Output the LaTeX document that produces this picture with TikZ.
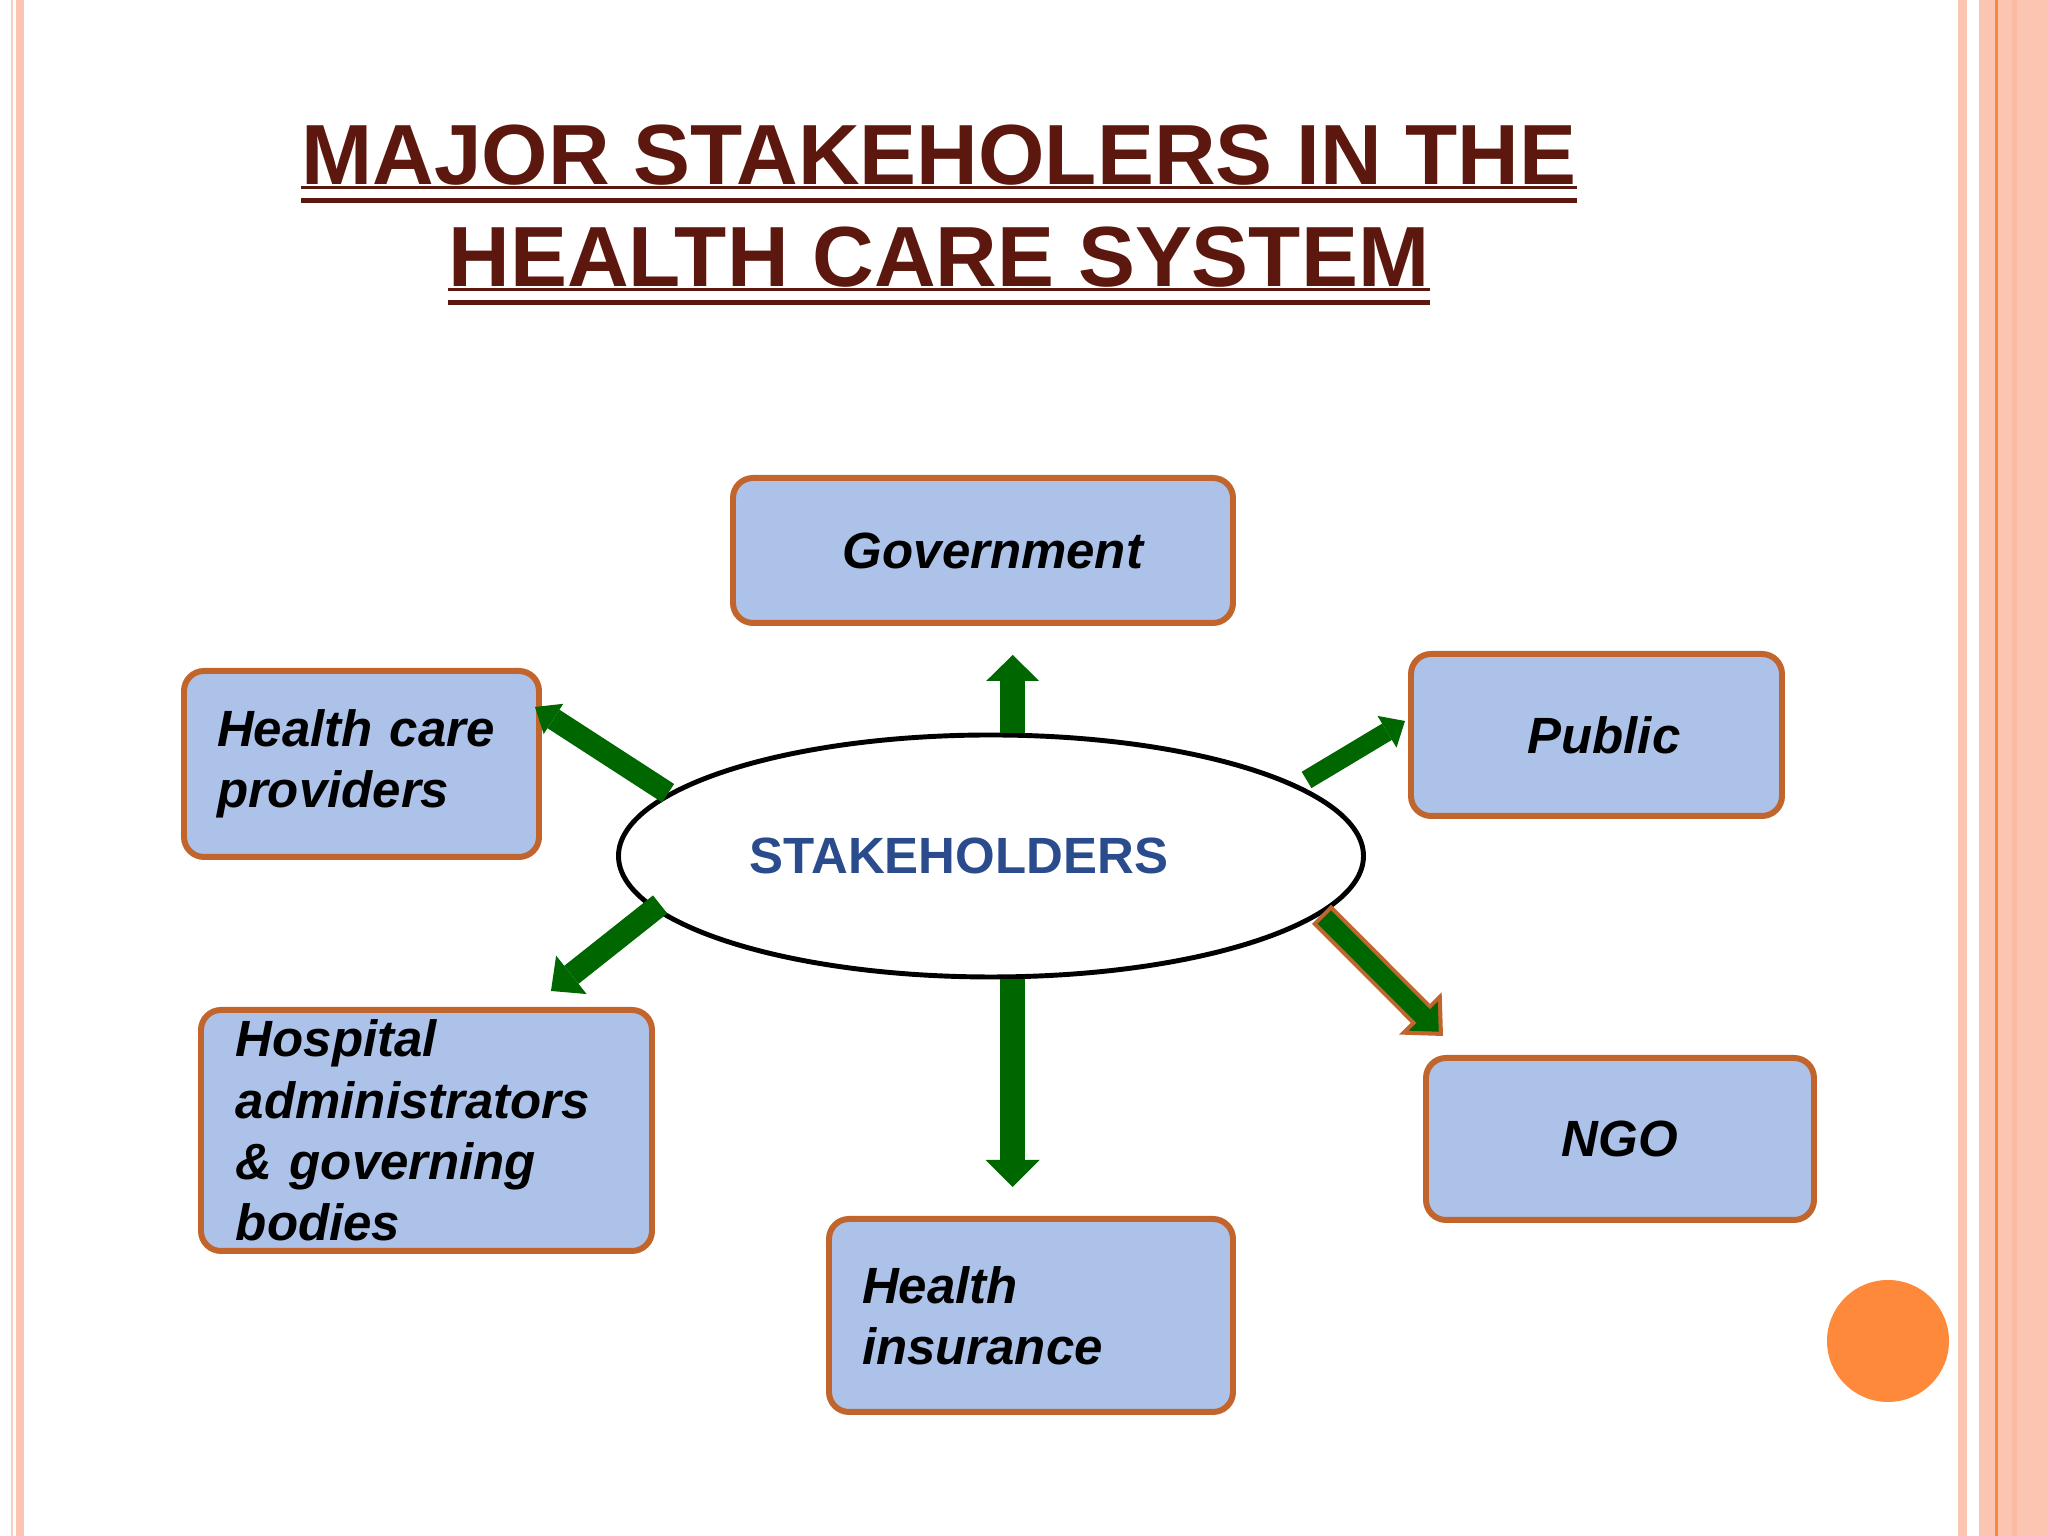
\documentclass[tikz,border=0pt]{standalone}
\usepackage{fontspec}
\setmainfont{Liberation Sans}
\usetikzlibrary{arrows.meta,shapes.geometric}

\definecolor{headred}{RGB}{92,24,14}
\definecolor{boxfill}{RGB}{173,194,232}
\definecolor{boxedge}{RGB}{193,101,45}
\definecolor{pushgreen}{RGB}{0,102,0}
\definecolor{hubblue}{RGB}{42,75,140}
\definecolor{stripepink}{RGB}{252,197,178}
\definecolor{stripelight}{RGB}{249,206,192}
\definecolor{stripeorange}{RGB}{247,136,58}
\definecolor{stripedeep}{RGB}{251,186,162}
\definecolor{dotorange}{RGB}{254,137,58}

\newcommand{\headfont}{\fontsize{24.3}{28}\selectfont\bfseries}
\newcommand{\stakefont}{\fontsize{14.5}{17.4}\selectfont\bfseries\itshape}

\tikzset{
	stakebox/.style={draw=boxedge, fill=boxfill, line width=1.7pt, rounded corners=0.2cm, inner ysep=0pt, font=\stakefont},
	hub/.style={ellipse, draw=black, fill=white, line width=1.4pt, minimum width=7.45cm, minimum height=2.42cm, inner sep=0pt},
	push/.style={pushgreen, line width=0.25cm, -{Triangle[width=0.53cm,length=0.26cm,line width=0pt]}},
	headline/.style={font=\headfont, text=headred, inner sep=0pt, anchor=base}
}

\begin{document}
\begin{tikzpicture}
	\useasboundingbox (0,0) rectangle (20.48,15.36);
	% slide frame
	\fill[stripelight] (0.11,0) rectangle (0.13,15.36);
	\fill[stripepink] (0.16,0) rectangle (0.24,15.36);
	\fill[stripepink] (19.58,0) rectangle (19.67,15.36);
	\fill[stripepink] (19.79,0) rectangle (20.48,15.36);
	\fill[stripeorange] (19.95,0) rectangle (19.98,15.36);
	\fill[stripedeep] (20.12,0) rectangle (20.17,15.36);
	\fill[dotorange] (18.88,1.95) circle (0.61);

	% title
	\node[headline] (head1) at (9.39,13.51) {MAJOR STAKEHOLERS IN THE};
	\node[headline] (head2) at (9.39,12.49) {HEALTH CARE SYSTEM};
	\foreach \h in {head1,head2} {
		\draw[headred, line width=0.03cm] ([yshift=-0.03cm]\h.base west) -- ([yshift=-0.03cm]\h.base east);
		\draw[headred, line width=0.045cm] ([yshift=-0.155cm]\h.base west) -- ([yshift=-0.155cm]\h.base east);
	}

	% stakeholders
	\node[stakebox, minimum width=5cm, minimum height=1.45cm] (gov) at (9.83,9.855) {\hspace{0.2cm}Government};
	\node[stakebox, minimum width=3.71cm, minimum height=1.62cm] (public) at (15.965,8.01) {\hspace{0.15cm}Public};
	\node[stakebox, minimum width=3.88cm, minimum height=1.62cm] (ngo) at (16.20,3.97) {NGO};
	\node[stakebox, text width=2.89cm, inner xsep=0.33cm, minimum height=1.86cm, align=left] (providers) at (3.615,7.72) {Health care\\providers};
	\node[stakebox, text width=3.81cm, inner xsep=0.35cm, minimum height=2.41cm, align=left] (hospital) at (4.265,4.055) {Hospital\\administrators\\\& governing\\bodies};
	\node[stakebox, text width=3.38cm, inner xsep=0.33cm, minimum height=1.93cm, align=left] (ins) at (10.31,2.205) {Health\\insurance};

	\node[hub, label={[text=hubblue, font=\fontsize{14.5}{17.4}\selectfont\bfseries, xshift=-0.32cm]center:STAKEHOLDERS}] (stake) at (9.91,6.80) {};

	\coordinate (provtip) at ([shift={(-0.07,0.57)}]providers.east);
	\coordinate (pubtip) at ([shift={(-0.03,0.14)}]public.west);
	\coordinate (hosptip) at ([shift={(-1.04,0.16)}]hospital.north east);
	\coordinate (ngotip) at ([shift={(0.20,0.19)}]ngo.north west);

	% arrows
	\draw[push, shorten >=0.29cm] (stake.80) -- (stake.80 |- gov.south);
	\draw[push, shorten >=0.29cm, -{Triangle[width=0.54cm,length=0.27cm,line width=0pt]}] (stake.-80) -- (stake.-80 |- ins.north);
	\draw[push, line width=0.22cm, -{Triangle[width=0.36cm,length=0.22cm,line width=0pt]}] (stake.169) -- (provtip);
	\draw[push, line width=0.19cm, -{Triangle[width=0.37cm,length=0.21cm,line width=0pt]}, shorten <=0.1cm] (stake.13) -- (pubtip);
	\draw[push, line width=0.23cm, -{Triangle[width=0.49cm,length=0.26cm,line width=0pt]}] ([xshift=0.14cm]stake.188) -- (hosptip);
	\draw[push, boxedge, line width=0.27cm, -{Triangle[width=0.60cm,length=0.32cm,line width=0pt]}] (stake.-10) -- (ngotip);
	\draw[push, line width=0.19cm, -{Triangle[width=0.41cm,length=0.22cm,line width=0pt]}, shorten <=0.04cm, shorten >=0.06cm] (stake.-10) -- (ngotip);
\end{tikzpicture}
\end{document}
